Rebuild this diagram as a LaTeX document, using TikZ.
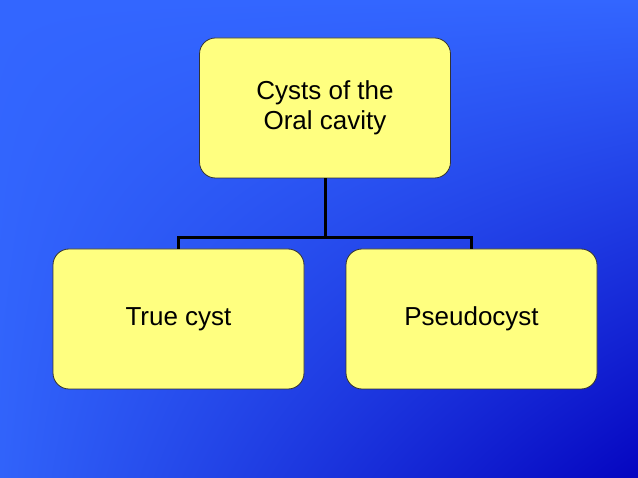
\documentclass[tikz,border=0pt]{standalone}
\usepackage{fontspec}
\setmainfont{Liberation Sans}
\usetikzlibrary{shadings}
\definecolor{bgA}{HTML}{3366FF}
\definecolor{bgB}{HTML}{3163FA}
\definecolor{bgC}{HTML}{0505C0}
\definecolor{boxfill}{HTML}{FFFF80}
\begin{document}
\begin{tikzpicture}[x=1pt,y=-1pt,
  box/.style={draw=black!80,line width=0.8pt,fill=boxfill,rounded corners=16pt,minimum width=251pt,minimum height=140pt,inner sep=0pt,font=\fontsize{26}{30}\selectfont,align=center},
  conn/.style={line width=3pt,draw=black}]
\shade[upper left=bgA,upper right=bgA,lower left=bgB,lower right=bgC] (0,0) rectangle (638,478);
\useasboundingbox (0,0) rectangle (638,478);
\node[box] (top) at (325,108) {Cysts of the\\ Oral cavity};
\node[box] (left) at (178.5,319) {True cyst};
\node[box] (right) at (471.5,319) {Pseudocyst};
\coordinate (mid) at (325,238);
\draw[conn] (top.south) -- (mid);
\draw[conn] (left.north) -- (left.north |- mid) -- (right.north |- mid) -- (right.north);
\end{tikzpicture}
\end{document}
